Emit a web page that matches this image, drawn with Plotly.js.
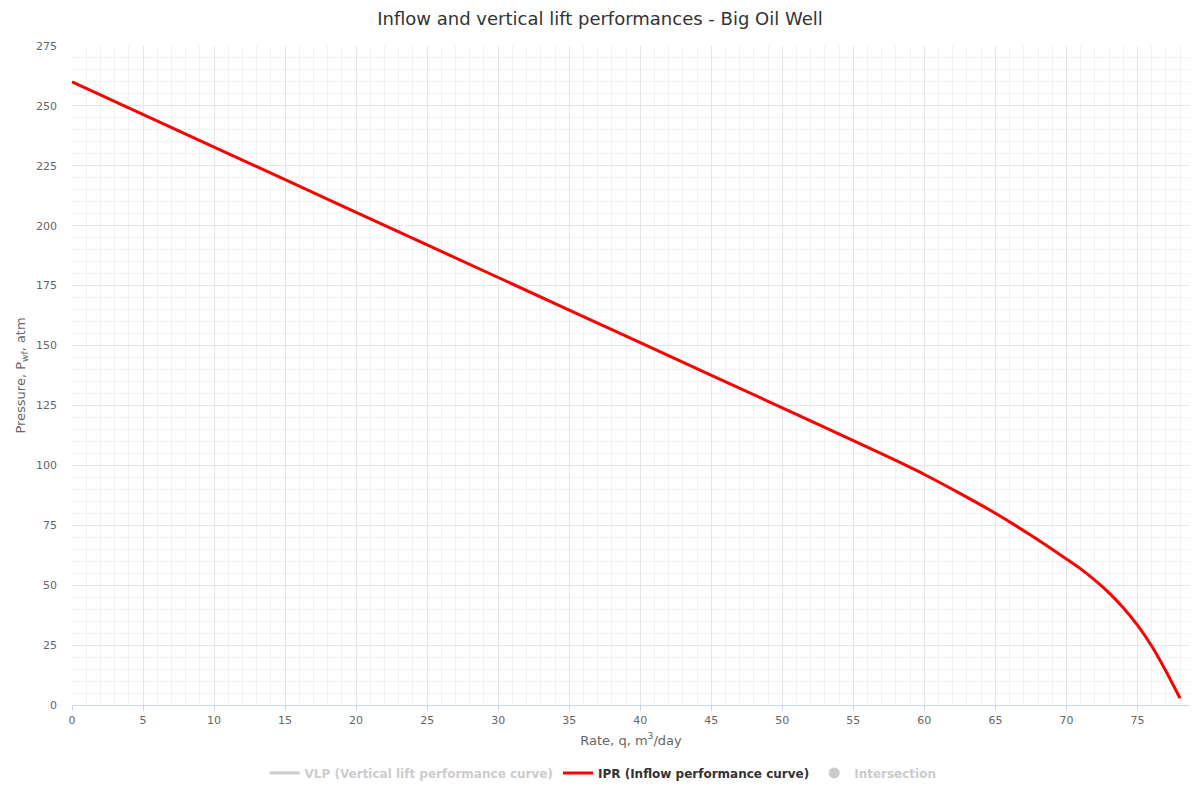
<!DOCTYPE html>
<html>
<head>
<meta charset="utf-8">
<script src="https://cdn.plot.ly/plotly-3.0.1.min.js"></script>
<style>
  html, body { margin: 0; padding: 0; background: #fff; }
  #chart { width: 1200px; height: 800px; }
</style>
</head>
<body>
<div id="chart"></div>
<script>
// IPR curve (rate in m3/day, pressure in atm)
var iprRate     = [0, 10, 20, 30, 40, 50, 55, 57.5, 60, 62.5, 65, 67.5, 70, 71, 72, 73, 74, 75, 76, 77, 78];
var iprPressure = [260, 232.8, 205.6, 178.4, 151.2, 124, 110.3, 103.4, 96.2, 88.3, 80, 70.8, 60.9, 56.8, 52.1, 46.8, 40.6, 33.3, 24.6, 14.2, 2.8];

// VLP and intersection are switched off in the legend, nothing to draw
var vlpRate = [null];
var vlpPressure = [null];
var crossRate = [null];
var crossPressure = [null];

var FONT = '"DejaVu Sans", "Lucida Grande", Verdana, sans-serif';

var vlp = {
    x: vlpRate,
    y: vlpPressure,
    name: '<span style="color:#999999">VLP (Vertical lift performance curve)</span>',
    type: 'scatter',
    mode: 'lines',
    line: {color: '#999999', width: 3},
    visible: 'legendonly'
};
var ipr = {
    x: iprRate,
    y: iprPressure,
    name: 'IPR (Inflow performance curve)',
    type: 'scatter',
    mode: 'lines',
    line: {color: '#ff0000', width: 3, shape: 'spline', smoothing: 0.6},
    hoverinfo: 'x+y'
};
var cross = {
    x: crossRate,
    y: crossPressure,
    name: '<span style="color:#999999">Intersection</span>',
    type: 'scatter',
    mode: 'markers',
    marker: {color: '#999999', size: 11},
    visible: 'legendonly'
};

var layout = {
    width: 1200,
    height: 800,
    paper_bgcolor: '#ffffff',
    plot_bgcolor: '#ffffff',
    font: {family: FONT, color: '#666666', size: 11},
    margin: {l: 72, r: 10, t: 46, b: 95},
    title: {
        text: 'Inflow and vertical lift performances - Big Oil Well',
        font: {family: FONT, size: 18, color: '#333333'},
        x: 0.5,
        xanchor: 'center',
        y: 0.977,
        yanchor: 'middle'
    },
    xaxis: {
        range: [0, 78.7],
        dtick: 5,
        tick0: 0,
        automargin: false,
        showgrid: true,
        gridcolor: '#e6e6e6',
        gridwidth: 1,
        zeroline: false,
        showline: true,
        linecolor: '#ccd6eb',
        linewidth: 1,
        ticks: 'outside',
        ticklen: 5,
        tickcolor: '#ccd6eb',
        tickfont: {size: 11, color: '#666666'},
        minor: {dtick: 1, showgrid: true, gridcolor: '#f2f2f2', ticks: ''},
        title: {text: 'Rate, q, m<sup>3</sup>/day', font: {size: 13, color: '#666666'}, standoff: 9}
    },
    yaxis: {
        range: [0, 275],
        dtick: 25,
        tick0: 0,
        automargin: false,
        showgrid: true,
        gridcolor: '#e6e6e6',
        gridwidth: 1,
        zeroline: false,
        showline: false,
        ticks: '',
        ticklabelstandoff: 14,
        tickfont: {size: 11, color: '#666666'},
        minor: {dtick: 5, showgrid: true, gridcolor: '#f2f2f2', ticks: ''},
        title: {text: 'Pressure, P<sub>wf</sub>, atm', font: {size: 13, color: '#666666'}, standoff: 7}
    },
    showlegend: true,
    legend: {
        orientation: 'h',
        x: 0.475,
        xanchor: 'center',
        y: -0.103,
        yanchor: 'middle',
        font: {family: FONT, size: 12, color: '#333333', weight: 'bold'},
        tracegroupgap: 0
    }
};

Plotly.newPlot('chart', [vlp, ipr, cross], layout, {displayModeBar: false});
</script>
</body>
</html>
